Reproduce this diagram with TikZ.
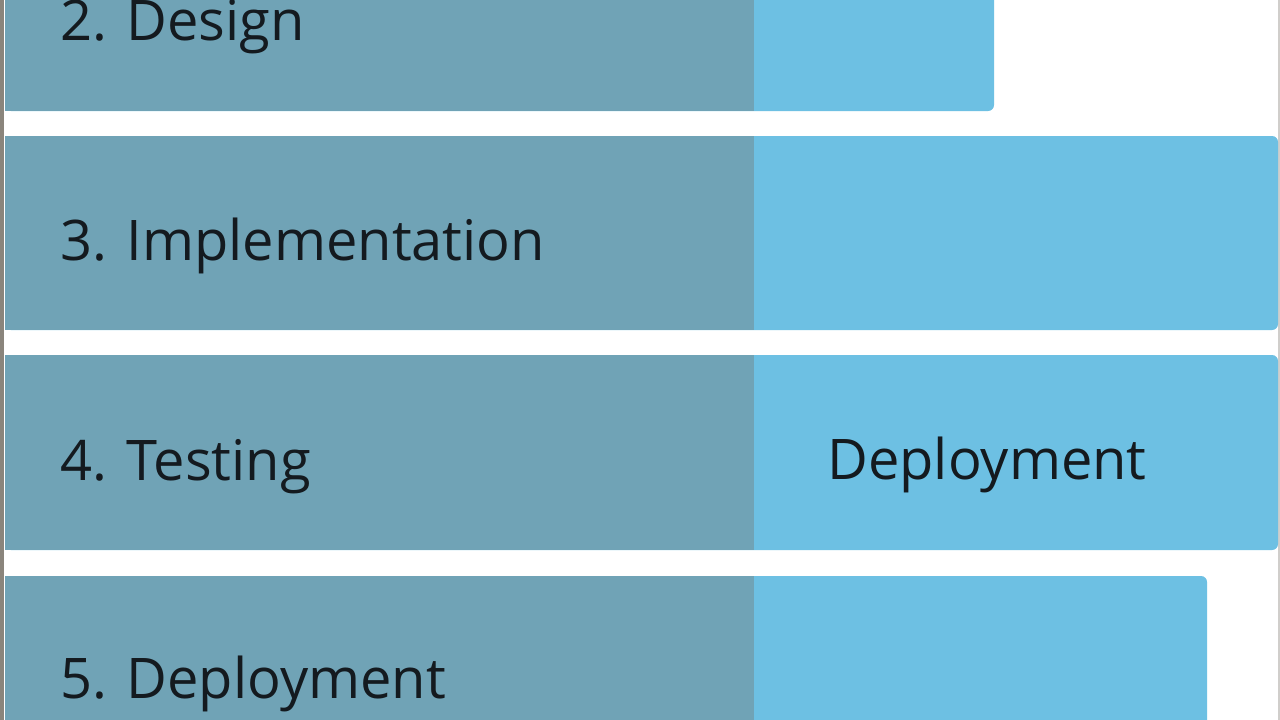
\documentclass[tikz,border=0pt]{standalone}
\usepackage{fontspec}
\setmainfont{Open Sans}
\definecolor{darkpart}{HTML}{70A3B6}
\definecolor{lightpart}{HTML}{6DC0E3}
\definecolor{edgegrey}{HTML}{8A857C}
\definecolor{txt}{HTML}{141A1F}
\tikzset{
  lab/.style={anchor=base west, inner sep=0pt, text=txt, font=\fontsize{56}{60}\selectfont},
  rlab/.style={anchor=base, inner sep=0pt, text=txt, font=\fontsize{56}{60}\selectfont},
}
\begin{document}
\begin{tikzpicture}[x=1pt,y=-1pt]
\useasboundingbox (0,0) rectangle (1280,720);
\fill[white] (0,0) rectangle (1280,720);
\fill[edgegrey] (0,0) rectangle (4,720);
\fill[edgegrey!40] (1278,0) rectangle (1280,720);
% bar 1
\begin{scope}
\clip (0,0) rectangle (1280,720);
\fill[lightpart, rounded corners=6pt] (5,-20) rectangle (994,111);
\fill[darkpart] (5,-20) rectangle (754,111);
% bar 2
\fill[lightpart, rounded corners=6pt] (5,136) rectangle (1278,330);
\fill[darkpart] (5,136) rectangle (754,330);
% bar 3
\fill[lightpart, rounded corners=6pt] (5,355) rectangle (1278,550);
\fill[darkpart] (5,355) rectangle (754,550);
% bar 4
\fill[lightpart, rounded corners=6pt] (5,576) rectangle (1207,760);
\fill[darkpart] (5,576) rectangle (754,760);
\end{scope}
\node[lab] (design) at (60,40) {2. Design};
\node[lab] (impl) at (60,260) {3. Implementation};
\node[lab] (test) at (60,480) {4. Testing};
\node[lab] (deploy) at (60,698) {5. Deployment};
\node[rlab] (dep2) at (987,479) {Deployment};
\end{tikzpicture}
\end{document}
